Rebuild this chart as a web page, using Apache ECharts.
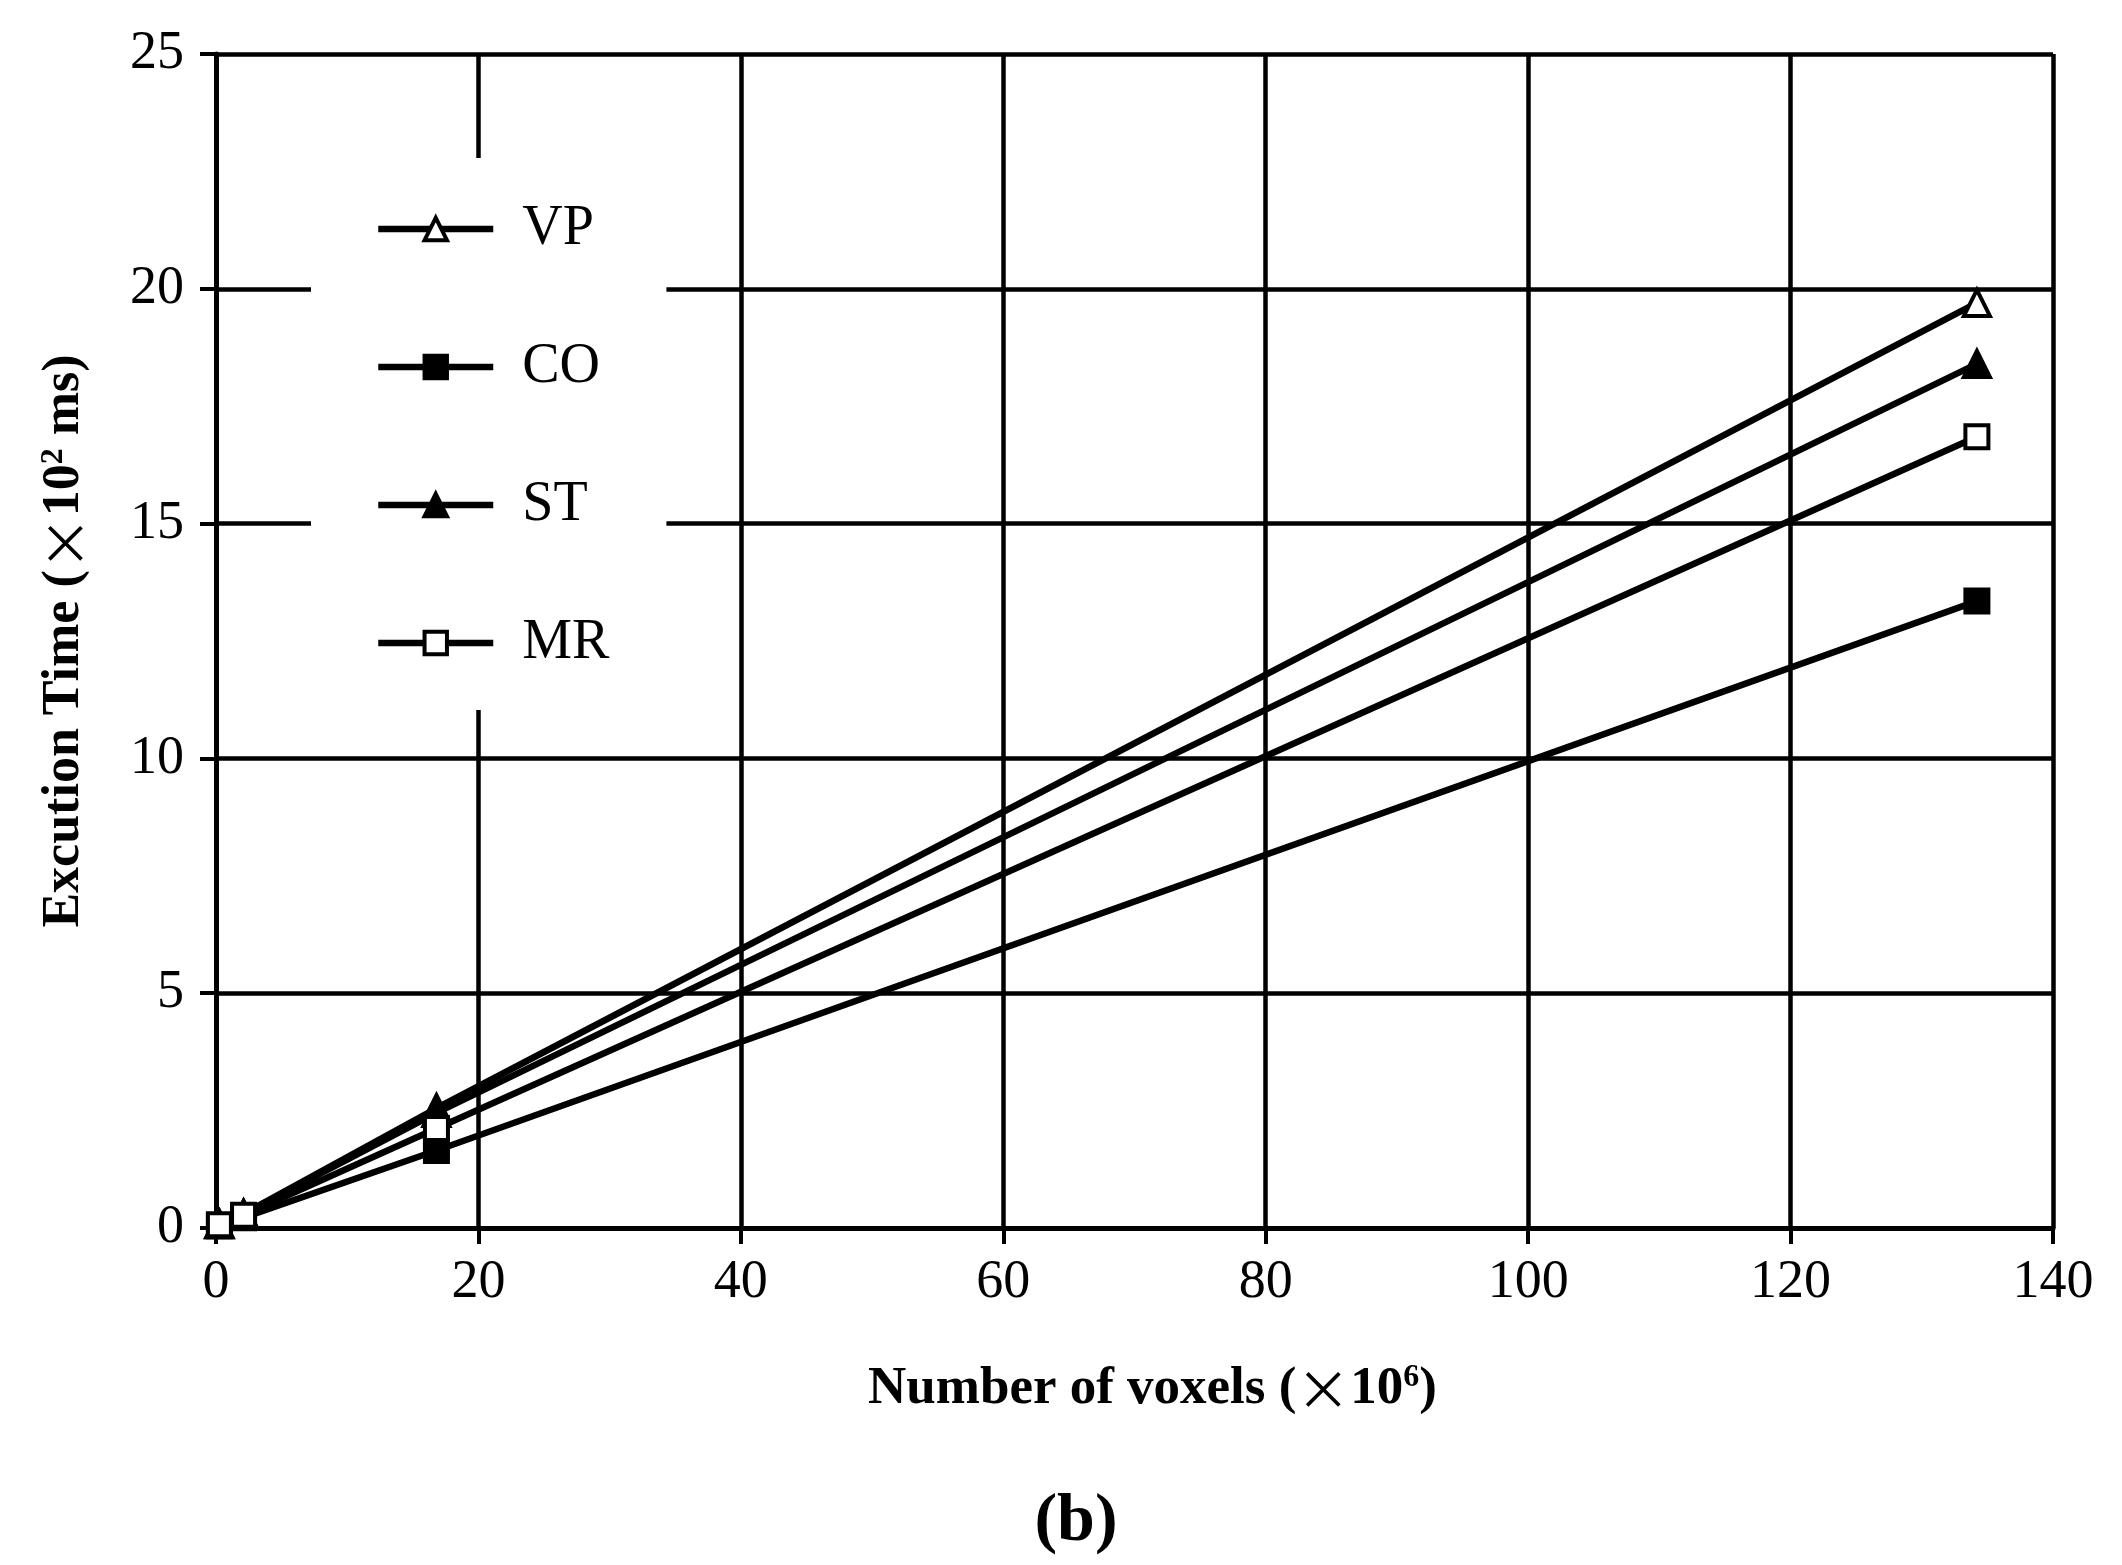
<!DOCTYPE html>
<html>
<head>
<meta charset="utf-8">
<script src="https://cdn.jsdelivr.net/npm/echarts@6/dist/echarts.min.js"></script>
<style>
html,body{margin:0;padding:0;background:#fff;}
#chart{width:2122px;height:1565px;}
</style>
</head>
<body>
<div id="chart"></div>
<script>
// Data
var voxels = [0.26, 2.1, 16.8, 134.2];           // x (×10^6)
var seriesNames = ['VP', 'CO', 'ST', 'MR'];
var vpTimes = [0.08, 0.3, 2.55, 19.7];             // ×10^2 ms
var coTimes = [0.05, 0.22, 1.65, 13.35];
var stTimes = [0.08, 0.3, 2.45, 18.4];
var mrTimes = [0.07, 0.27, 2.12, 16.85];
var xTicks = [0, 20, 40, 60, 80, 100, 120, 140];
var yTicks = [0, 5, 10, 15, 20, 25];

var FONT = "'Liberation Serif', 'Times New Roman', serif";

function pairs(ys) {
  return voxels.map(function (x, i) { return [x, ys[i]]; });
}

var styles = {
  VP: { symbol: 'triangle', fill: '#fff' },
  CO: { symbol: 'rect', fill: '#000' },
  ST: { symbol: 'triangle', fill: '#000' },
  MR: { symbol: 'rect', fill: '#fff' }
};
var values = { VP: vpTimes, CO: coTimes, ST: stTimes, MR: mrTimes };

var series = seriesNames.map(function (name) {
  var st = styles[name];
  return {
    name: name,
    type: 'line',
    data: pairs(values[name]),
    symbol: st.symbol,
    symbolSize: st.symbol === 'rect' ? 23 : 26,
    showAllSymbol: true,
    lineStyle: { color: '#000', width: 6.5 },
    itemStyle: { color: st.fill, borderColor: '#000', borderWidth: 4 },
    emphasis: { disabled: true },
    animation: false,
    z: 3
  };
});

var nameRich = {
  sup: { fontFamily: FONT, fontSize: 32, fontWeight: 'bold', color: '#000', verticalAlign: 'top', padding: [0, 0, 22, 0] },
  x: { fontFamily: "'Noto Sans CJK SC', sans-serif", fontSize: 54, fontWeight: 'normal', color: '#000', padding: [0, 0, 0, 0] }
};

var chart = echarts.init(document.getElementById('chart'));
chart.setOption({
  backgroundColor: '#fff',
  animation: false,
  grid: { left: 216, right: 69, top: 54, bottom: 337, containLabel: false },
  xAxis: {
    type: 'value',
    min: 0, max: 140, interval: 20,
    name: 'Number of voxels ({x|×}10{sup|6})',
    nameLocation: 'middle',
    nameGap: 134,
    nameTextStyle: {
      fontFamily: FONT, fontSize: 53, fontWeight: 'bold', color: '#000', rich: nameRich,
      padding: [0, 0, 0, 36]
    },
    axisLine: { show: true, lineStyle: { color: '#000', width: 5 } },
    axisTick: { show: true, inside: false, length: 16, lineStyle: { color: '#000', width: 4 } },
    axisLabel: { fontFamily: FONT, fontSize: 54, color: '#000', margin: 28,
      formatter: function (v) { return xTicks.indexOf(v) >= 0 ? String(v) : ''; } },
    splitLine: { show: true, lineStyle: { color: '#000', width: 4.5 } }
  },
  yAxis: {
    type: 'value',
    min: 0, max: 25, interval: 5,
    name: 'Excution Time ({x|×}10{sup|2} ms)',
    nameLocation: 'middle',
    nameGap: 124,
    nameRotate: 90,
    nameTextStyle: {
      fontFamily: FONT, fontSize: 52, fontWeight: 'bold', color: '#000', rich: nameRich
    },
    axisLine: { show: true, lineStyle: { color: '#000', width: 5 } },
    axisTick: { show: true, inside: false, length: 16, lineStyle: { color: '#000', width: 4 } },
    axisLabel: { fontFamily: FONT, fontSize: 54, color: '#000', margin: 32,
      formatter: function (v) { return yTicks.indexOf(v) >= 0 ? String(v) : ''; } },
    splitLine: { show: true, lineStyle: { color: '#000', width: 4.5 } }
  },
  legend: {
    show: true,
    orient: 'vertical',
    left: 311,
    top: 158,
    data: seriesNames,
    backgroundColor: '#fff',
    padding: [41, 57, 37, 64],
    itemGap: 78,
    itemWidth: 115,
    itemHeight: 28,
    selectedMode: false,
    lineStyle: { width: 6.5, color: '#000' },
    itemStyle: { borderWidth: 4, borderColor: '#000' },
    textStyle: { fontFamily: FONT, fontSize: 56, color: '#000', lineHeight: 60, padding: [0, 0, 0, 24] },
    z: 10
  },
  graphic: [{
    type: 'text',
    x: 1076,
    y: 1522,
    style: { text: '(b)', fontFamily: FONT, fontSize: 68, fontWeight: 'bold', fill: '#000', align: 'center', verticalAlign: 'middle' }
  }],
  series: series
});
</script>
</body>
</html>
